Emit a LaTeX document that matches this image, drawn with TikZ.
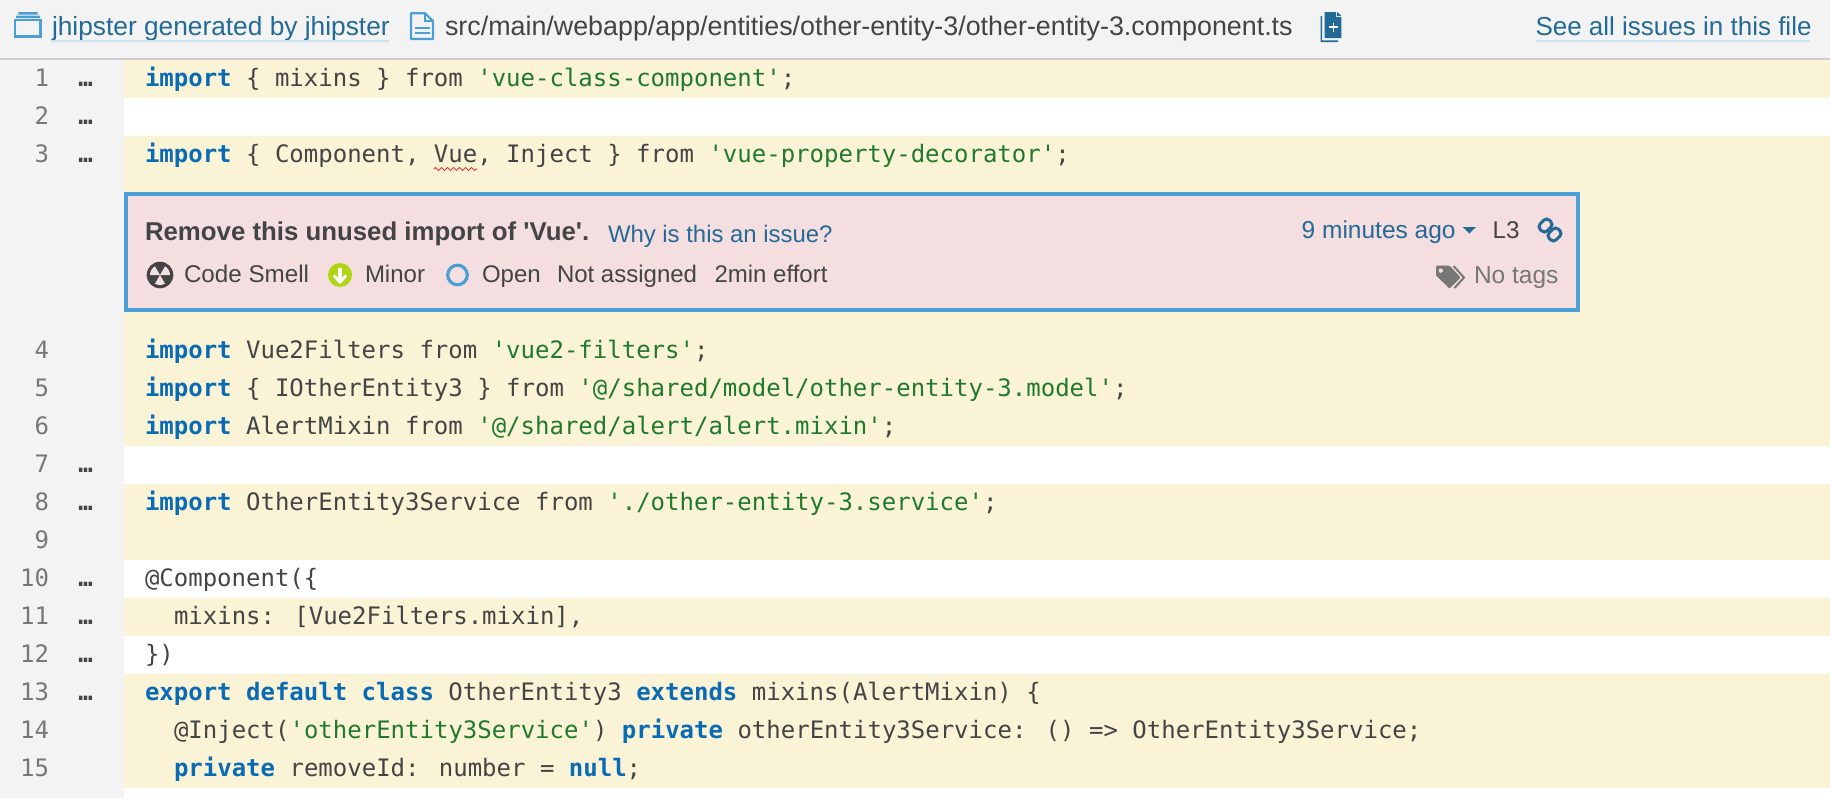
\documentclass[tikz,border=0pt]{standalone}
\usepackage{fontspec}
\usetikzlibrary{decorations.pathmorphing}
\newfontfamily\uifont{Liberation Sans}
\newfontfamily\codefont{DejaVu Sans Mono}
\definecolor{gutterbg}{HTML}{F3F3F3}
\definecolor{rule}{HTML}{CDCDCD}
\definecolor{rowbg}{HTML}{FBF3D5}
\definecolor{issuebg}{HTML}{F4DEDF}
\definecolor{azure}{HTML}{4B9FD5}
\definecolor{linkblue}{HTML}{236A97}
\definecolor{linkline}{HTML}{CAE3F2}
\definecolor{txt}{HTML}{444444}
\definecolor{muted}{HTML}{777777}
\definecolor{kwblue}{HTML}{0A6BB5}
\definecolor{strgreen}{HTML}{1F7A2E}
\definecolor{minorgreen}{HTML}{B0D513}
\definecolor{wavyred}{HTML}{E23B3B}
\newcommand\kwd[1]{{\bfseries\color{kwblue}#1}}
\newcommand\strg[1]{{\color{strgreen}#1}}
\newcommand\uisz[1]{\fontsize{#1}{#1}\selectfont}
\tikzset{
 codeline/.style={anchor=base west,inner sep=0pt,outer sep=0pt,text=txt,font=\codefont\uisz{24}},
 lineno/.style={anchor=base east,inner sep=0pt,outer sep=0pt,text=muted,font=\codefont\uisz{24}},
 dots/.style={anchor=base,inner sep=0pt,outer sep=0pt,text=txt,font=\codefont\bfseries\uisz{24}},
 uitext/.style={anchor=base west,inner sep=0pt,outer sep=0pt,text=txt,font=\uifont\uisz{26}},
 uilink/.style={uitext,text=linkblue},
 linkring/.style={draw=linkblue,line width=3pt,rounded corners=4pt,rotate=45},
}
\newcommand\rowno[3]{\node[lineno] (n#1) at (49,#2+7.5) {#1};\ifnum#3=1 \node[dots] (d#1) at (85.5,#2+7.5) {…};\fi}
\newcommand\code[3]{\node[codeline] (c#1) at (145,#2+7.5) {#3};}
\begin{document}
\begin{tikzpicture}[x=1pt,y=-1pt]
\useasboundingbox (0,0) rectangle (1830,798);
\fill[white] (0,0) rectangle (1830,798);
% header and gutter
\fill[gutterbg] (0,0) rectangle (1830,58);
\fill[gutterbg] (0,58) rectangle (124,798);
% highlighted rows
\fill[rowbg] (124,60) rectangle (1830,98);
\fill[rowbg] (124,136) rectangle (1830,446);
\fill[rowbg] (124,484) rectangle (1830,560);
\fill[rowbg] (124,598) rectangle (1830,636);
\fill[rowbg] (124,674) rectangle (1830,788);
\fill[rule] (0,58) rectangle (1830,60);
% header: folder icon
\draw[azure,line width=2.3pt] (15.2,20) rectangle (40.6,36.4);
\fill[azure] (16,15.6) rectangle (40,18.2) (18.3,12) rectangle (37.7,14.6);
\node[uilink,font=\uifont\uisz{26.3}] (project) at (52,35.5) {jhipster generated by jhipster};
\fill[linkline] (52,40) rectangle (389,42);
% file icon
\draw[azure,line width=2.2pt,line join=round] (411,13.2) -- (425,13.2) -- (433,21) -- (433,39) -- (411,39) -- cycle;
\draw[azure,line width=1.4pt] (425,13.2) -- (425,21) -- (433,21);
\draw[azure,line width=2pt] (414.5,27.5) -- (429.5,27.5) (414.5,32.5) -- (429.5,32.5);
\node[uitext,font=\uifont\uisz{26.85}] (path) at (445,35.5) {src/main/webapp/app/entities/other-entity-3/other-entity-3.component.ts};
% add-file icon
\fill[linkblue] (1324.5,12) -- (1336,12) -- (1336,17) -- (1341.4,17) -- (1341.4,38) -- (1324.5,38) -- cycle;
\fill[linkblue] (1337.2,12) -- (1341.4,16) -- (1337.2,16) -- cycle;
\fill[linkblue] (1320.5,16) rectangle (1322.2,42) (1320.5,40.3) rectangle (1338,42);
\draw[white,line width=1.4pt] (1329,27) -- (1338,27) (1333.4,22.5) -- (1333.4,31.5);
\node[uilink] (allissues) at (1535.5,35) {See all issues in this file};
\fill[linkline] (1535.5,40) rectangle (1810,42);
% line numbers
\rowno{1}{79}{1}\rowno{2}{117}{1}\rowno{3}{155}{1}\rowno{4}{351}{0}\rowno{5}{389}{0}
\rowno{6}{427}{0}\rowno{7}{465}{1}\rowno{8}{503}{1}\rowno{9}{541}{0}\rowno{10}{579}{1}
\rowno{11}{617}{1}\rowno{12}{655}{1}\rowno{13}{693}{1}\rowno{14}{731}{0}\rowno{15}{769}{0}
% code
\code{1}{79}{\kwd{import} \{ mixins \} from \strg{'vue-class-component'};}
\code{3}{155}{\kwd{import} \{ Component, Vue, Inject \} from \strg{'vue-property-decorator'};}
\draw[wavyred,line width=1pt,decorate,decoration={zigzag,amplitude=1.5pt,segment length=6pt}] (434,169) -- (477,169);
\code{4}{351}{\kwd{import} Vue2Filters from \strg{'vue2-filters'};}
\code{5}{389}{\kwd{import} \{ IOtherEntity3 \} from \strg{'@/shared/model/other-entity-3.model'};}
\code{6}{427}{\kwd{import} AlertMixin from \strg{'@/shared/alert/alert.mixin'};}
\code{8}{503}{\kwd{import} OtherEntity3Service from \strg{'./other-entity-3.service'};}
\code{10}{579}{@Component(\{}
\node[codeline] (c11) at (174,624.5) {mixins: [Vue2Filters.mixin],};
\code{12}{655}{\})}
\code{13}{693}{\kwd{export} \kwd{default} \kwd{class} OtherEntity3 \kwd{extends} mixins(AlertMixin) \{}
\node[codeline] (c14) at (174,738.5) {@Inject(\strg{'otherEntity3Service'}) \kwd{private} otherEntity3Service: () => OtherEntity3Service;};
\node[codeline] (c15) at (174,776.5) {\kwd{private} removeId: number = \kwd{null};};
% issue box
\draw[azure,fill=issuebg,line width=4pt] (126,194) rectangle (1578,310);
\node[uitext,font=\uifont\bfseries\uisz{25.8}] (msg) at (145,240) {Remove this unused import of 'Vue'.};
\node[uilink,font=\uifont\uisz{23.9}] (why) at (608,242) {Why is this an issue?};
% code smell icon
\fill[txt] (160,275) circle (13.3);
\foreach \a in {-30,-150,90} {
  \fill[issuebg] (160,275) ++(\a-30:4.2) -- ++(\a-30:5.8) arc[start angle=\a-30,end angle=\a+30,radius=10] -- (160,275) ++(\a+30:4.2) -- cycle;
}
\node[uitext,font=\uifont\uisz{24.2}] (smell) at (184,282) {Code Smell};
% minor icon
\fill[minorgreen] (340,275) circle (12);
\draw[white,line width=3.4pt] (340,267.5) -- (340,281);
\draw[white,line width=3pt] (333.8,275.5) -- (340,282) -- (346.2,275.5);
\node[uitext,font=\uifont\uisz{24}] (minor) at (365,282) {Minor};
% open icon
\draw[azure,line width=3.2pt] (457.5,275) circle (9.8);
\node[uitext,font=\uifont\uisz{24}] (open) at (482,282) {Open};
\node[uitext,font=\uifont\uisz{24}] (assignee) at (557,282) {Not assigned};
\node[uitext,font=\uifont\uisz{24}] (effort) at (714.5,282) {2min effort};
% right side
\node[uilink,font=\uifont\uisz{24.5}] (age) at (1301.7,238) {9 minutes ago};
\fill[linkblue] (1462.7,227) -- (1476,227) -- (1469.4,233.5) -- cycle;
\node[uitext,font=\uifont\uisz{24.2}] (lineref) at (1492.7,238) {L3};
% link icon
\node[linkring,minimum width=13pt,minimum height=10pt,inner sep=0pt] (ringa) at (1545.5,225.5) {};
\node[linkring,minimum width=13pt,minimum height=10pt,inner sep=0pt] (ringb) at (1554.5,234.5) {};
% tag icon
\fill[muted,rounded corners=1pt] (1436,265.5) -- (1449.5,265.5) -- (1460.5,277.5) -- (1449.5,288.5) -- (1436,275.5) -- cycle;
\fill[issuebg] (1440.8,270.6) circle (2.2);
\draw[muted,line width=2pt] (1453.5,266) -- (1464,277.5) -- (1454.5,288);
\node[uitext,text=muted,font=\uifont\uisz{24.5}] (notags) at (1474,283) {No tags};
\end{tikzpicture}
\end{document}
